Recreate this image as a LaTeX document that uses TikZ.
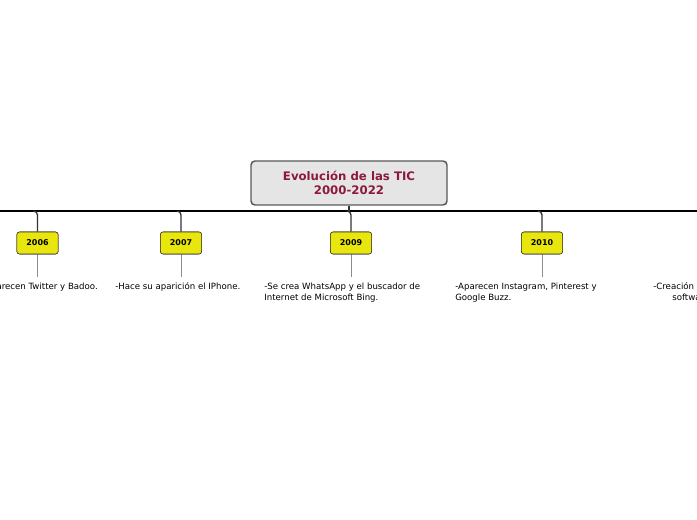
\documentclass[tikz,border=0pt]{standalone}
\usepackage{fontspec}
\setmainfont{DejaVu Sans}
\definecolor{titlec}{HTML}{8B1A3A}
\definecolor{yel}{HTML}{E8E60C}
\begin{document}
\begin{tikzpicture}[x=0.75pt,y=-0.75pt,
  yearbox/.style={draw=black!80,fill=yel,rounded corners=2pt,minimum width=31pt,minimum height=16.5pt,font=\fontsize{6}{7}\selectfont\bfseries,inner sep=0pt},
  desc/.style={font=\fontsize{6.45}{8.2}\selectfont,align=left,inner sep=0pt,anchor=north west},
  conn/.style={draw=black!80,line width=1pt,rounded corners=3pt},
  sub/.style={draw=black!45,line width=0.5pt}]
\useasboundingbox (0,0) rectangle (697,520);
\clip (0,0) rectangle (697,520);
\node[draw=black!65,line width=1.1pt,fill=black!10,rounded corners=3pt,minimum width=147pt,minimum height=33pt,align=center,text=titlec,font=\fontsize{8.8}{11}\selectfont\bfseries] (title) at (349,183) {Evolución de las TIC\\2000-2022};
\coordinate (L) at (0,211); \coordinate (R) at (697,211);
\draw[black,line width=1.2pt] (L) -- (R);
\coordinate (tj) at (349,211);
\draw[conn] (title.south) -- (tj);
\foreach \n/\x in {a/37.5,b/181,c/351,d/542}{
  \node[yearbox] (y\n) at (\x,243) {};
  \coordinate (j\n) at (\x,211);
  \coordinate (e\n) at (\x,277);
  \draw[conn] (\x-4,211) -- (\x,211) -- (y\n.north);
  \draw[sub] (y\n.south) -- (e\n);
}
\node[yearbox] at (ya) {2006};
\node[yearbox] at (yb) {2007};
\node[yearbox] at (yc) {2009};
\node[yearbox] at (yd) {2010};
\node[desc,anchor=north east] (ta) at (98,282.5) {-Aparecen Twitter y Badoo.};
\node[desc] (tb) at (115,282.5) {-Hace su aparición el IPhone.};
\node[desc] (tc) at (264,282.5) {-Se crea WhatsApp y el buscador de\\Internet de Microsoft Bing.};
\node[desc] (td) at (455,282.5) {-Aparecen Instagram, Pinterest y\\Google Buzz.};
\node[desc] (te1) at (653,282.5) {-Creación de};
\node[desc] (te2) at (672,293.5) {software};
\end{tikzpicture}
\end{document}
